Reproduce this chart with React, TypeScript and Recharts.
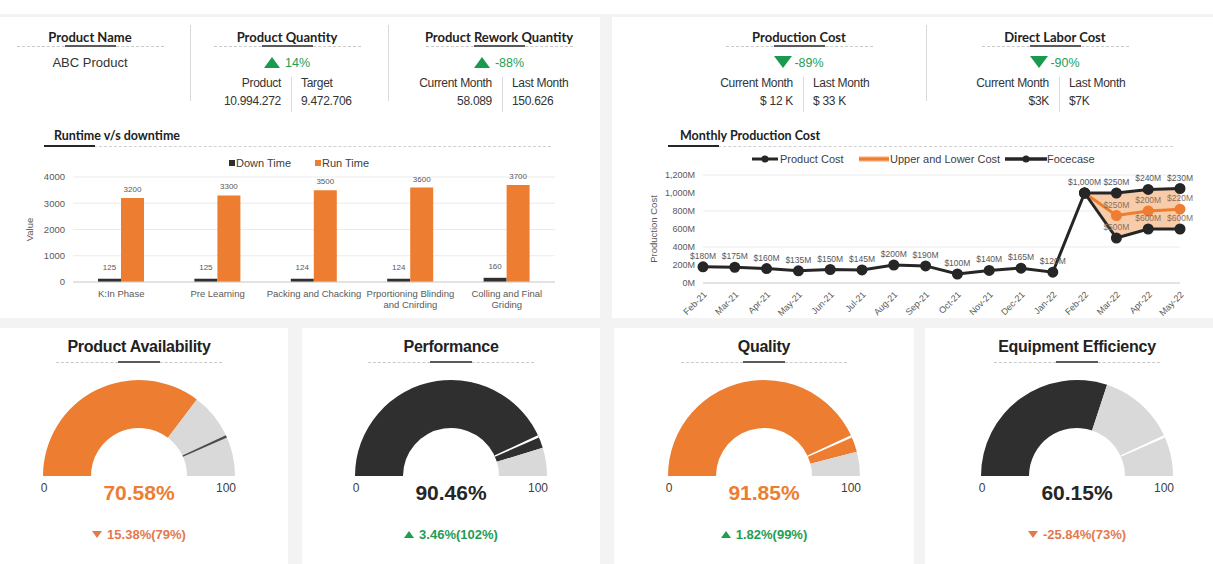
import React from 'react'
import {
  BarChart,
  Bar,
  ComposedChart,
  Line,
  Area,
  XAxis,
  YAxis,
  CartesianGrid,
  LabelList,
  PieChart,
  Pie,
  Cell,
} from 'recharts'

const ORANGE = '#ED7D31'
const DARK = '#2F2F2F'
const LIGHT = '#D9D9D9'
const GREEN = '#1F9D55'
const RED = '#E27A4E'
const AXIS_TEXT = '#595959'
const SANS = 'Arial, "Liberation Sans", Helvetica, sans-serif'
const HEAD = 'Lato, "Open Sans", Arial, sans-serif'

// KPI header blocks
const kpiTitles = ['Product Name', 'Product Quantity', 'Product Rework Quantity', 'Production Cost', 'Direct Labor Cost']
const kpiChange = [null, '14%', '-88%', '-89%', '-90%']
const kpiTrendUp = [null, true, true, false, false]
const kpiLeftLabels = [null, 'Product', 'Current Month', 'Current Month', 'Current Month']
const kpiRightLabels = [null, 'Target', 'Last Month', 'Last Month', 'Last Month']
const kpiLeftValues = [null, '10.994.272', '58.089', '$ 12 K', '$3K']
const kpiRightValues = [null, '9.472.706', '150.626', '$ 33 K', '$7K']
const productName = 'ABC Product'

// Runtime v/s downtime
const phases = [
  'K:In Phase',
  'Pre Learning',
  'Packing and Chacking',
  'Prportioning Blinding and Cnirding',
  'Colling and Final Griding',
]
const downTime = [125, 125, 124, 124, 160]
const runTime = [3200, 3300, 3500, 3600, 3700]
const runtimeTicks = [0, 1000, 2000, 3000, 4000]

// Monthly production cost, $M
const months = [
  'Feb-21', 'Mar-21', 'Apr-21', 'May-21', 'Jun-21', 'Jul-21', 'Aug-21', 'Sep-21',
  'Oct-21', 'Nov-21', 'Dec-21', 'Jan-22', 'Feb-22', 'Mar-22', 'Apr-22', 'May-22',
]
const productCost = [180, 175, 160, 135, 150, 145, 200, 190, 100, 140, 165, 120, 1000, null, null, null]
const forecastCost = [null, null, null, null, null, null, null, null, null, null, null, null, 1000, 750, 800, 820]
const upperSpread = [null, null, null, null, null, null, null, null, null, null, null, null, 0, 250, 240, 230]
const lowerSpread = [null, null, null, null, null, null, null, null, null, null, null, null, 0, 250, 200, 220]
const costTicks = [0, 200, 400, 600, 800, 1000, 1200]

// OEE gauges
const gaugeTitles = ['Product Availability', 'Performance', 'Quality', 'Equipment Efficiency']
const gaugeValues = [70.58, 90.46, 91.85, 60.15]
const gaugeTargets = [86, 86, 86, 86]
const gaugeDeltas = ['15.38%(79%)', '3.46%(102%)', '1.82%(99%)', '-25.84%(73%)']
const gaugeTrendUp = [false, true, true, false]
const gaugeColors = [ORANGE, DARK, ORANGE, DARK]
const gaugeNeedleColors = ['#4D4D4D', '#FFFFFF', '#FFFFFF', '#FFFFFF']

const barData = phases.map((phase, i) => ({ phase, down: downTime[i], run: runTime[i] }))

const costData = months.map((month, i) => {
  const mid = forecastCost[i]
  const upper = mid == null ? null : mid + (upperSpread[i] ?? 0)
  const lower = mid == null ? null : mid - (lowerSpread[i] ?? 0)
  return {
    month,
    cost: productCost[i],
    mid,
    upper,
    lower,
    band: mid == null ? null : [lower, upper],
    upperSpread: upperSpread[i],
    lowerSpread: lowerSpread[i],
    lowerLabel: lowerSpread[i] ? lower : null,
  }
})

const money = (v: any) => (v || v === 0 ? `$${Number(v).toLocaleString('en-US')}M` : '')
const spread = (v: any) => (v ? `$${v}M` : '')

function wrap(text: string, max: number) {
  const lines: string[] = []
  let cur = ''
  text.split(' ').forEach((w) => {
    const next = cur ? `${cur} ${w}` : w
    if (next.length > max && cur) {
      lines.push(cur)
      cur = w
    } else cur = next
  })
  if (cur) lines.push(cur)
  return lines
}

type Align = 'left' | 'center' | 'right'

// absolutely placed text, vertically centred on y
function Txt({ x, y, align = 'center', style, children }: { x: number; y: number; align?: Align; style?: React.CSSProperties; children: React.ReactNode }) {
  const w = 400
  const left = align === 'left' ? x : align === 'right' ? x - w : x - w / 2
  return (
    <div
      style={{
        position: 'absolute',
        left,
        top: y - 10,
        width: w,
        height: 20,
        textAlign: align,
        whiteSpace: 'nowrap',
        ...style,
        lineHeight: '20px',
      }}
    >
      {children}
    </div>
  )
}

function Tri({ up, w, h, color }: { up: boolean; w: number; h: number; color: string }) {
  const pts = up ? `0,${h} ${w / 2},0 ${w},${h}` : `0,0 ${w},0 ${w / 2},${h}`
  return (
    <svg width={w} height={h} style={{ display: 'inline-block', verticalAlign: 'middle', marginTop: -3 }}>
      <polygon points={pts} fill={color} />
    </svg>
  )
}

function Heading({ cx, y, width, rule, gap, text, style }: { cx: number; y: number; width: number; rule: number; gap: number; text: string; style: React.CSSProperties }) {
  return (
    <>
      <Txt x={cx} y={y} style={style}>{text}</Txt>
      <div style={{ position: 'absolute', left: cx - width / 2, top: y + gap, width, borderTop: '1px dashed #C9C9C9' }} />
      <div style={{ position: 'absolute', left: cx - rule / 2, top: y + gap - 1, width: rule, height: 2, background: '#5A5A5A' }} />
    </>
  )
}

function ChartTitle({ x, y, ruleX, ruleEnd, text }: { x: number; y: number; ruleX: number; ruleEnd: number; text: string }) {
  return (
    <>
      <Txt x={x} y={y} align="left" style={{ font: `bold 12.5px ${HEAD}`, color: '#222' }}>{text}</Txt>
      <div style={{ position: 'absolute', left: ruleX, top: y + 10, width: ruleEnd - ruleX, borderTop: '1px dashed #D0D0D0' }} />
      <div style={{ position: 'absolute', left: ruleX, top: y + 9, width: 51, height: 2, background: '#262626' }} />
    </>
  )
}

const kpiCenters = [90, 287, 499, 799, 1055]
const kpiSplits = [0, 291, 502, 803, 1059]

function Kpi({ i }: { i: number }) {
  const cx = kpiCenters[i]
  const sx = kpiSplits[i]
  const small: React.CSSProperties = { font: `12px ${SANS}`, color: '#333', letterSpacing: -0.3 }
  return (
    <>
      <Heading
        cx={cx}
        y={37}
        width={147}
        rule={51}
        gap={9}
        text={kpiTitles[i]}
        style={{ font: `bold 13px ${HEAD}`, color: '#222' }}
      />
      {kpiChange[i] == null ? (
        <Txt x={cx} y={63} style={{ font: `13px ${SANS}`, color: '#333' }}>{productName}</Txt>
      ) : (
        <>
          <Txt x={cx} y={63} style={{ font: `12.5px ${SANS}`, color: GREEN }}>
            <Tri up={!!kpiTrendUp[i]} w={kpiTrendUp[i] ? 16 : 18} h={kpiTrendUp[i] ? 11 : 12} color="#1A9A4F" />
            <span style={{ marginLeft: kpiTrendUp[i] ? 5 : 2 }}>{kpiChange[i]}</span>
          </Txt>
          <Txt x={sx - 10} y={83} align="right" style={small}>{kpiLeftLabels[i]}</Txt>
          <Txt x={sx + 10} y={83} align="left" style={small}>{kpiRightLabels[i]}</Txt>
          <Txt x={sx - 10} y={101} align="right" style={small}>{kpiLeftValues[i]}</Txt>
          <Txt x={sx + 10} y={101} align="left" style={small}>{kpiRightValues[i]}</Txt>
          <div style={{ position: 'absolute', left: sx, top: 77, width: 1, height: 35, background: '#D9D9D9' }} />
        </>
      )}
    </>
  )
}

const PhaseTick = ({ x, y, payload }: any) => {
  const lines = wrap(String(payload.value), 21)
  return (
    <text x={x} y={y} textAnchor="middle" fontSize={9.5} fill={AXIS_TEXT} fontFamily={SANS}>
      {lines.map((l, k) => (
        <tspan key={k} x={x} dy={k === 0 ? '0.71em' : 11}>
          {l}
        </tspan>
      ))}
    </text>
  )
}

const MonthTick = ({ x, y, payload }: any) => (
  <g transform={`translate(${x + 2},${y + 2})`}>
    <text transform="rotate(-45)" textAnchor="end" dy="0.35em" fontSize={9} fill={AXIS_TEXT} fontFamily={SANS}>
      {payload.value}
    </text>
  </g>
)

function RuntimeChart() {
  return (
    <div style={{ position: 'absolute', left: 0, top: 150 }}>
      <BarChart
        width={600}
        height={170}
        data={barData}
        margin={{ top: 27, right: 45, left: 23, bottom: 8 }}
        barGap={0}
        barSize={23}
      >
        <CartesianGrid vertical={false} stroke="#EBEBEB" />
        <XAxis
          dataKey="phase"
          interval={0}
          height={30}
          tickLine={false}
          axisLine={{ stroke: '#D0D0D0' }}
          tick={<PhaseTick />}
        />
        <YAxis
          width={50}
          domain={[0, 4000]}
          ticks={runtimeTicks}
          axisLine={false}
          tickLine={false}
          tick={{ fontSize: 9.5, fill: AXIS_TEXT, fontFamily: SANS }}
          label={{
            value: 'Value',
            angle: -90,
            position: 'insideLeft',
            offset: 7,
            style: { textAnchor: 'middle', fontSize: 9.5, fill: AXIS_TEXT, fontFamily: SANS },
          }}
        />
        <Bar dataKey="down" name="Down Time" fill={DARK} isAnimationActive={false}>
          <LabelList dataKey="down" position="top" offset={9} style={{ fontSize: 8, fill: AXIS_TEXT, fontFamily: SANS }} />
        </Bar>
        <Bar dataKey="run" name="Run Time" fill={ORANGE} isAnimationActive={false}>
          <LabelList dataKey="run" position="top" offset={6} style={{ fontSize: 8, fill: AXIS_TEXT, fontFamily: SANS }} />
        </Bar>
      </BarChart>
    </div>
  )
}

function CostChart() {
  const lbl = { fontSize: 8.5, fill: AXIS_TEXT, fontFamily: SANS }
  const bandLbl = { fontSize: 8.5, fill: '#8A6F5C', fontFamily: SANS }
  const dark = { r: 4, fill: '#262626', stroke: '#262626' }
  return (
    <div style={{ position: 'absolute', left: 612, top: 150 }}>
      <ComposedChart width={601} height={168} data={costData} margin={{ top: 25, right: 33, left: 31, bottom: 5 }}>
        <CartesianGrid vertical={false} stroke="#EBEBEB" />
        <XAxis
          dataKey="month"
          interval={0}
          height={30}
          tickLine={false}
          axisLine={{ stroke: '#D0D0D0' }}
          tick={<MonthTick />}
        />
        <YAxis
          width={60}
          domain={[0, 1200]}
          ticks={costTicks}
          axisLine={false}
          tickLine={false}
          tickFormatter={(v) => `${Number(v).toLocaleString('en-US')}M`}
          tick={{ fontSize: 9, fill: AXIS_TEXT, fontFamily: SANS }}
          label={{
            value: 'Production Cost',
            angle: -90,
            position: 'insideLeft',
            offset: 11,
            style: { textAnchor: 'middle', fontSize: 9.5, fill: AXIS_TEXT, fontFamily: SANS },
          }}
        />
        <Area dataKey="band" stroke="none" fill="#F8C6A0" fillOpacity={0.9} isAnimationActive={false} />
        <Line dataKey="mid" stroke={ORANGE} strokeWidth={3} dot={{ r: 4, fill: ORANGE, stroke: ORANGE }} isAnimationActive={false}>
          <LabelList dataKey="lowerSpread" position="top" offset={8} formatter={spread} style={bandLbl} />
        </Line>
        <Line dataKey="upper" stroke="#262626" strokeWidth={3} dot={dark} isAnimationActive={false}>
          <LabelList dataKey="upperSpread" position="top" offset={8} formatter={spread} style={lbl} />
        </Line>
        <Line dataKey="lower" stroke="#262626" strokeWidth={3} dot={dark} isAnimationActive={false}>
          <LabelList dataKey="lowerLabel" position="top" offset={8} formatter={money} style={bandLbl} />
        </Line>
        <Line dataKey="cost" stroke="#262626" strokeWidth={3} dot={dark} isAnimationActive={false}>
          <LabelList dataKey="cost" position="top" offset={8} formatter={money} style={lbl} />
        </Line>
      </ComposedChart>
    </div>
  )
}

function Legends() {
  const t: React.CSSProperties = { font: `11px ${SANS}`, color: '#404040' }
  return (
    <>
      {/* runtime legend */}
      <div style={{ position: 'absolute', left: 229, top: 160, width: 6, height: 6, background: DARK }} />
      <Txt x={236} y={163} align="left" style={t}>Down Time</Txt>
      <div style={{ position: 'absolute', left: 315, top: 160, width: 6, height: 6, background: ORANGE }} />
      <Txt x={322} y={163} align="left" style={t}>Run Time</Txt>

      {/* cost legend */}
      <svg style={{ position: 'absolute', left: 750, top: 152 }} width={30} height={14}>
        <line x1={2} y1={7} x2={28} y2={7} stroke="#262626" strokeWidth={3} />
        <circle cx={15} cy={7} r={3.5} fill="#262626" />
      </svg>
      <Txt x={780} y={159} align="left" style={t}>Product Cost</Txt>
      <svg style={{ position: 'absolute', left: 858, top: 152 }} width={32} height={14}>
        <line x1={1} y1={7} x2={31} y2={7} stroke="#F4A46E" strokeWidth={5} />
        <line x1={1} y1={7} x2={31} y2={7} stroke={ORANGE} strokeWidth={2.5} />
      </svg>
      <Txt x={890} y={159} align="left" style={t}>Upper and Lower Cost</Txt>
      <svg style={{ position: 'absolute', left: 1004, top: 152 }} width={44} height={14}>
        <line x1={1} y1={7} x2={43} y2={7} stroke="#262626" strokeWidth={3.5} />
        <circle cx={22} cy={7} r={3.5} fill="#262626" />
      </svg>
      <Txt x={1047} y={159} align="left" style={t}>Focecase</Txt>
    </>
  )
}

const gaugeCenters = [139, 451, 764, 1077]

function Gauge({ i }: { i: number }) {
  const cx = gaugeCenters[i]
  const value = gaugeValues[i]
  const target = gaugeTargets[i]
  const up = gaugeTrendUp[i]
  const W = 240
  const H = 110
  const cy = 104
  const arc = [{ v: value }, { v: 100 - value }]
  const needle = [{ v: target }, { v: 0.9 }, { v: 100 - target - 0.9 }]
  const ring = { cx: W / 2, cy, startAngle: 180, endAngle: 0, innerRadius: 48, outerRadius: 96 }
  return (
    <>
      <Heading
        cx={cx}
        y={347}
        width={166}
        rule={42}
        gap={15}
        text={gaugeTitles[i]}
        style={{ font: `bold 16px ${SANS}`, color: '#222', letterSpacing: -0.25 }}
      />
      <div style={{ position: 'absolute', left: cx - W / 2, top: 476 - cy }}>
        <PieChart width={W} height={H} margin={{ top: 0, right: 0, bottom: 0, left: 0 }}>
          <Pie data={arc} dataKey="v" {...ring} stroke="none" isAnimationActive={false}>
            <Cell fill={gaugeColors[i]} />
            <Cell fill={LIGHT} />
          </Pie>
          <Pie data={needle} dataKey="v" {...ring} stroke="none" isAnimationActive={false}>
            <Cell fill="transparent" />
            <Cell fill={gaugeNeedleColors[i]} />
            <Cell fill="transparent" />
          </Pie>
        </PieChart>
      </div>
      <Txt x={cx - 95} y={488} style={{ font: `12px ${SANS}`, color: '#404040' }}>0</Txt>
      <Txt x={cx + 87} y={488} style={{ font: `12px ${SANS}`, color: '#404040' }}>100</Txt>
      <Txt x={cx} y={493} style={{ font: `bold 21px ${SANS}`, color: gaugeColors[i] === ORANGE ? ORANGE : '#262626' }}>
        {value.toFixed(2)}%
      </Txt>
      <Txt x={cx} y={535} style={{ font: `bold 13px ${SANS}`, color: up ? GREEN : RED }}>
        <Tri up={up} w={10} h={7} color={up ? GREEN : RED} />
        <span style={{ marginLeft: 5 }}>{gaugeDeltas[i]}</span>
      </Txt>
    </>
  )
}

const panel = (left: number, top: number, width: number, height: number): React.CSSProperties => ({
  position: 'absolute',
  left,
  top,
  width,
  height,
  background: '#FFFFFF',
})

export default function App() {
  return (
    <div style={{ position: 'relative', width: 1213, height: 564, background: '#FFFFFF', overflow: 'hidden', fontFamily: SANS }}>
      <style>{'body{margin:0}'}</style>
      <div style={{ position: 'absolute', left: 0, top: 14, width: 1213, height: 550, background: '#F3F3F3' }} />
      <div style={panel(0, 17, 600, 301)} />
      <div style={panel(612, 17, 601, 301)} />
      <div style={panel(0, 328, 288, 236)} />
      <div style={panel(302, 328, 298, 236)} />
      <div style={panel(614, 328, 300, 236)} />
      <div style={panel(925, 328, 288, 236)} />

      <div style={{ position: 'absolute', left: 190, top: 25, width: 1, height: 76, background: '#D9D9D9' }} />
      <div style={{ position: 'absolute', left: 388, top: 25, width: 1, height: 76, background: '#D9D9D9' }} />
      <div style={{ position: 'absolute', left: 926, top: 25, width: 1, height: 76, background: '#D9D9D9' }} />
      {kpiTitles.map((_, i) => (
        <Kpi key={i} i={i} />
      ))}

      <ChartTitle x={54} y={136} ruleX={44} ruleEnd={551} text="Runtime v/s downtime" />
      <ChartTitle x={680} y={136} ruleX={668} ruleEnd={1173} text="Monthly Production Cost" />
      <RuntimeChart />
      <CostChart />
      <Legends />

      {gaugeTitles.map((_, i) => (
        <Gauge key={i} i={i} />
      ))}
    </div>
  )
}
